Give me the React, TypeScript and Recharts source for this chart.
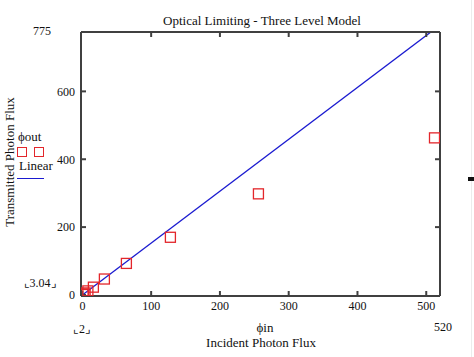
import React from "react";
import { ComposedChart, Scatter, Line, XAxis, YAxis } from "recharts";

const phiIn = [1, 2, 4, 8, 16, 32, 64, 128, 256, 512];
const phiOut = [1.5, 3, 6, 12, 23, 47, 93, 170, 298, 463];
const linearIn = [0, 512];
const linearOut = [0, 783];
const xTicks = [0, 100, 200, 300, 400, 500];
const yTicks = [0, 200, 400, 600];
const xLimits = [-2, 520];
const yLimits = [-3.04, 775];

const points = phiIn.map((x, i) => ({ x, y: phiOut[i] }));
const linear = linearIn.map((x, i) => ({ x, y: linearOut[i] }));

const FONT = "'Liberation Serif', 'Times New Roman', serif";
const AXIS = "#404040";
const RED = "#e3262b";
const BLUE = "#1a1ad0";

const Square = (props: any) => {
  const { cx, cy } = props;
  if (cx == null || cy == null) return null;
  return <rect x={cx - 5} y={cy - 5} width={10} height={10} fill="none" stroke={RED} strokeWidth={1.3} />;
};

function Txt({ x, y, children, size = 12, anchor = "center", rotate = false }: any) {
  const tx = anchor === "center" ? "-50%" : anchor === "end" ? "-100%" : "0";
  return (
    <div
      style={{
        position: "absolute",
        left: x,
        top: y,
        transform: rotate ? "translate(-50%, -50%) rotate(-90deg)" : `translate(${tx}, -50%)`,
        fontFamily: FONT,
        fontSize: size,
        color: "#111",
        whiteSpace: "nowrap",
        lineHeight: 1,
      }}
    >
      {children}
    </div>
  );
}

export default function App() {
  const tick = { fill: "#111", fontSize: 12, fontFamily: FONT };
  const blank = () => "";
  return (
    <div style={{ position: "absolute", left: 0, top: 0, width: 474, height: 357, background: "#fff" }}>
      <ComposedChart width={474} height={357} margin={{ top: 31, right: 33, bottom: 0, left: 0 }}>
        <XAxis
          xAxisId={0}
          dataKey="x"
          type="number"
          domain={xLimits}
          ticks={xTicks}
          allowDataOverflow
          height={61}
          tick={tick}
          tickLine={{ stroke: AXIS, strokeWidth: 2 }}
          tickSize={-5}
          tickMargin={10}
          stroke={AXIS}
          strokeWidth={2}
        />
        <XAxis
          xAxisId="top"
          orientation="top"
          dataKey="x"
          type="number"
          domain={xLimits}
          ticks={[100, 200, 300, 400, 500]}
          allowDataOverflow
          height={1}
          tick={tick}
          tickFormatter={blank}
          tickLine={{ stroke: AXIS, strokeWidth: 2 }}
          tickSize={-5}
          stroke={AXIS}
          strokeWidth={2}
        />
        <YAxis
          yAxisId={0}
          dataKey="y"
          type="number"
          domain={yLimits}
          ticks={yTicks}
          allowDataOverflow
          width={81}
          tick={tick}
          tickLine={{ stroke: AXIS, strokeWidth: 2 }}
          tickSize={-5}
          tickMargin={11}
          stroke={AXIS}
          strokeWidth={2}
        />
        <YAxis
          yAxisId="right"
          orientation="right"
          dataKey="y"
          type="number"
          domain={yLimits}
          ticks={[200, 400, 600]}
          allowDataOverflow
          width={1}
          tick={tick}
          tickFormatter={blank}
          tickLine={{ stroke: AXIS, strokeWidth: 2 }}
          tickSize={-5}
          stroke={AXIS}
          strokeWidth={2}
        />
        <Line
          data={linear}
          dataKey="y"
          type="linear"
          stroke={BLUE}
          strokeWidth={1.3}
          dot={false}
          isAnimationActive={false}
        />
        <Scatter data={points} dataKey="y" shape={<Square />} isAnimationActive={false} />
        <Line
          data={linear}
          dataKey="y"
          xAxisId="top"
          yAxisId="right"
          stroke="none"
          dot={false}
          isAnimationActive={false}
        />
      </ComposedChart>

      <Txt x={262} y={20} size={13}>Optical Limiting - Three Level Model</Txt>
      <Txt x={9} y={162} size={13} rotate>Transmitted Photon Flux</Txt>
      <Txt x={42} y={31} size={12}>775</Txt>
      <Txt x={40} y={283} size={12}>⌞3.04⌟</Txt>
      <Txt x={82} y={329} size={12}>⌞2⌟</Txt>
      <Txt x={443} y={327} size={12}>520</Txt>
      <Txt x={265} y={327} size={13}>ϕin</Txt>
      <Txt x={261} y={342} size={13}>Incident Photon Flux</Txt>

      <Txt x={18} y={136} size={13} anchor="start">ϕout</Txt>
      <div style={{ position: "absolute", left: 17, top: 147, width: 8, height: 8, border: `1.3px solid ${RED}` }} />
      <div style={{ position: "absolute", left: 34, top: 147, width: 8, height: 8, border: `1.3px solid ${RED}` }} />
      <Txt x={19} y={165} size={13} anchor="start">Linear</Txt>
      <div style={{ position: "absolute", left: 17, top: 178, width: 27, height: 1.3, background: BLUE }} />

      <div style={{ position: "absolute", left: 471, top: 0, width: 1, height: 357, background: "#ececec" }} />
      <div style={{ position: "absolute", left: 468, top: 177, width: 6, height: 4, background: "#111" }} />
    </div>
  );
}
